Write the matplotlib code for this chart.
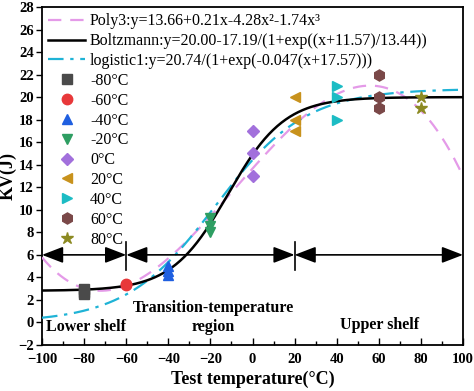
import numpy as np
import matplotlib
matplotlib.use("Agg")
import matplotlib.pyplot as plt
from matplotlib.patches import ArrowStyle

plt.rcParams['font.family'] = ['Liberation Serif', 'DejaVu Serif']

# data
temps = [-80, -60, -40, -20, 0, 20, 40, 60, 80]
kv_values = [
    [3.0, 2.7, 2.5],
    [3.4, 3.3],
    [4.2, 4.6, 5.0],
    [9.3, 8.6, 8.0],
    [17.0, 15.0, 13.0],
    [20.0, 18.0, 17.0],
    [21.0, 20.0, 18.0],
    [22.0, 20.0, 19.0],
    [20.0, 19.0],
]
labels = ['-80°C', '-60°C', '-40°C', '-20°C', '0°C', '20°C', '40°C', '60°C', '80°C']
markers = ['s', 'o', '^', 'v', 'D', '<', '>', 'h', '*']
colors = ['#4a4a4a', '#e8383a', '#1f5fe0', '#2e9e62', '#a270dc', '#c8921c', '#1cbcc4', '#7a4848', '#8c8a22']
msizes = [7, 7.5, 7.5, 7.5, 6.5, 7.5, 7.5, 8, 9]

# fit parameters
poly3_coef = [13.66, 0.21, -4.28e-4, -1.74e-5]
boltz_A2, boltz_dA, boltz_x0, boltz_dx = 20.00, 17.19, -11.57, 13.44
logi_A, logi_k, logi_x0 = 20.74, 0.047, -17.57

fig = plt.figure(figsize=(4.74, 3.91), dpi=100)
ax = fig.add_axes([42/474, 1-345/391, 421/474, 338/391])

x = np.linspace(-100, 100, 400)
y_poly = poly3_coef[0] + poly3_coef[1]*x + poly3_coef[2]*x**2 + poly3_coef[3]*x**3
y_boltz = boltz_A2 - boltz_dA/(1+np.exp((x-boltz_x0)/boltz_dx))
y_logi = logi_A/(1+np.exp(-logi_k*(x-logi_x0)))

l1, = ax.plot(x, y_poly, color='#e49ae8', lw=1.6, ls=(0, (6, 4)),
              label='Poly3:y=13.66+0.21x-4.28x²-1.74x³', zorder=3)
l2, = ax.plot(x, y_boltz, color='black', lw=1.8,
              label='Boltzmann:y=20.00-17.19/(1+exp((x+11.57)/13.44))', zorder=4)
l3, = ax.plot(x, y_logi, color='#1fb3d6', lw=1.6, ls=(0, (7, 3, 1.5, 3)),
              label='logistic1:y=20.74/(1+exp(-0.047(x+17.57)))', zorder=3)

for t, vals, lab, m, c, s in zip(temps, kv_values, labels, markers, colors, msizes):
    ax.plot([t]*len(vals), vals, ls='none', marker=m, color=c, ms=s, mec=c,
            label=lab, zorder=5)

# region arrows
st = ArrowStyle('<|-|>', head_length=1.3, head_width=0.5)
for a, b in [(-100, -60), (-60, 20), (20, 100)]:
    ax.annotate('', xy=(b, 6), xytext=(a, 6),
                arrowprops=dict(arrowstyle=st, color='black', lw=1.2,
                                shrinkA=0, shrinkB=0, mutation_scale=10), zorder=6)
for xv in [-60, 20]:
    ax.plot([xv, xv], [4.7, 7.1], color='black', lw=1.2, zorder=6)

ax.text(-79, -0.4, 'Lower shelf', ha='center', va='center', fontsize=11.5, fontweight='bold')
ax.text(-18.5, 0.45, 'Transition-temperature\nregion', ha='center', va='center',
        fontsize=11.5, fontweight='bold', linespacing=1.25)
ax.text(60.3, -0.2, 'Upper shelf', ha='center', va='center', fontsize=11.5, fontweight='bold')

ax.set_xlim(-100, 100)
ax.set_ylim(-2, 28)
ax.set_xticks(np.arange(-100, 101, 20))
ax.set_xticks(np.arange(-90, 100, 20), minor=True)
ax.set_yticks(np.arange(-2, 29, 2))
ax.tick_params(axis='x', which='major', direction='in', length=5, width=1, labelsize=10.5, pad=6)
ax.tick_params(axis='x', which='minor', direction='in', length=3, width=1)
ax.tick_params(axis='y', which='major', direction='out', length=4, width=1, labelsize=10.5, pad=2)
for lab in ax.get_xticklabels() + ax.get_yticklabels():
    lab.set_fontweight('bold')
for sp in ax.spines.values():
    sp.set_linewidth(1.3)

ax.set_xlabel('Test temperature(°C)', fontsize=13, fontweight='bold', labelpad=3)
ax.set_ylabel('KV(J)', fontsize=13, fontweight='bold', labelpad=1)

leg = ax.legend(loc='upper left', bbox_to_anchor=(0.0, 1.0), frameon=False, fontsize=11.5,
                handlelength=2.3, handletextpad=0.3, labelspacing=0.24, borderaxespad=0.3,
                borderpad=0.1)

fig.savefig('out.png', dpi=100)
